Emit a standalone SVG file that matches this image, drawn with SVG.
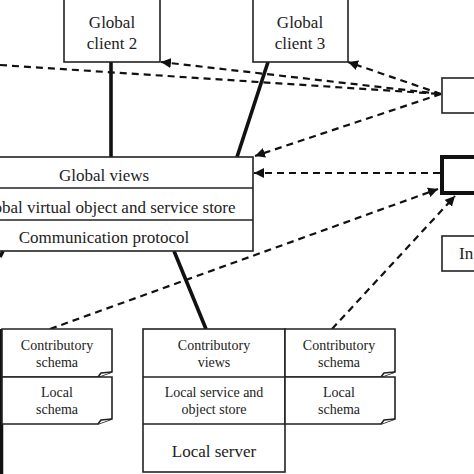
<svg xmlns="http://www.w3.org/2000/svg" width="474" height="474" viewBox="0 0 474 474">
<style>
.box{fill:#fff;stroke:#222;stroke-width:1.6}
.thickbox{fill:#fff;stroke:#111;stroke-width:4}
.t{font-family:"Liberation Serif","Times New Roman",serif;fill:#222;text-anchor:middle}
.big{font-size:17px}
.sm{font-size:14px}
.solid{stroke:#111;stroke-width:3.6;fill:none}
.dash{stroke:#111;stroke-width:2.2;stroke-dasharray:7 5;fill:none}
</style>
<defs>
<marker id="ah" viewBox="0 0 10 10" refX="10" refY="5" markerWidth="10" markerHeight="10" markerUnits="userSpaceOnUse" orient="auto">
<path d="M0,0 L10,5 L0,10 z" fill="#111"/>
</marker>
<marker id="ahs" viewBox="0 0 10 10" refX="10" refY="5" markerWidth="6" markerHeight="6" markerUnits="userSpaceOnUse" orient="auto">
<path d="M0,0 L10,5 L0,10 z" fill="#111"/>
</marker>
</defs>
<rect width="474" height="474" fill="#fff"/>

<g id="connectors">
<line class="solid" x1="111" y1="62" x2="111" y2="157"/>
<line class="solid" x1="268" y1="62" x2="237" y2="157"/>
<line class="solid" x1="174" y1="251" x2="206" y2="329"/>
<line class="solid" x1="3" y1="251" x2="0" y2="257"/>
<line class="dash" x1="0" y1="65" x2="441" y2="94" marker-end="url(#ahs)"/>
<line class="dash" x1="441" y1="94" x2="161" y2="62" marker-end="url(#ah)"/>
<line class="dash" x1="441" y1="94" x2="348" y2="62" marker-end="url(#ah)"/>
<line class="dash" x1="441" y1="94" x2="255" y2="156" marker-end="url(#ah)"/>
<line class="dash" x1="440" y1="173" x2="254" y2="173" marker-end="url(#ah)"/>
<line class="dash" x1="50" y1="329" x2="438" y2="189" marker-end="url(#ah)"/>
<line class="dash" x1="332" y1="329" x2="455" y2="196" marker-end="url(#ah)"/>
</g>

<g id="global-client-2">
<rect class="box" x="64" y="-10" width="96" height="72"/>
<text class="t big" x="112" y="28">Global</text>
<text class="t big" x="112" y="49">client 2</text>
</g>

<g id="global-client-3">
<rect class="box" x="253" y="-10" width="95" height="72"/>
<text class="t big" x="300" y="28">Global</text>
<text class="t big" x="300" y="49">client 3</text>
</g>

<g id="global-server">
<rect class="box" x="-45" y="157" width="298" height="94"/>
<line class="box" x1="-45" y1="188" x2="253" y2="188"/>
<line class="box" x1="-45" y1="220" x2="253" y2="220"/>
<text class="t big" x="104" y="181">Global views</text>
<text class="t big" x="106" y="213">Global virtual object and service store</text>
<text class="t big" x="104" y="243">Communication protocol</text>
</g>

<g id="right-box-1">
<rect class="box" x="442" y="78" width="50" height="35"/>
</g>

<g id="right-box-2">
<rect class="thickbox" x="442" y="157" width="50" height="36"/>
</g>

<g id="right-box-3">
<rect class="box" x="442" y="236" width="50" height="35"/>
<text class="t big" x="459" y="259" style="text-anchor:start">In</text>
</g>

<g id="left-edge">
<line x1="1.5" y1="329" x2="1.5" y2="474" stroke="#111" stroke-width="3.5"/>
</g>

<g id="left-schemas">
<path class="box" d="M2,329 H112 V372 L98,377 H2 Z"/>
<path class="box" d="M98,377 L101,373 L112,372"/>
<text class="t sm" x="57" y="350">Contributory</text>
<text class="t sm" x="57" y="367">schema</text>
<path class="box" d="M2,377 H112 V419 L98,424 H2 Z"/>
<path class="box" d="M98,424 L101,420 L112,419"/>
<text class="t sm" x="57" y="397">Local</text>
<text class="t sm" x="57" y="414">schema</text>
</g>

<g id="local-server">
<rect class="box" x="143" y="329" width="142" height="143"/>
<line class="box" x1="143" y1="377" x2="285" y2="377"/>
<line class="box" x1="143" y1="424" x2="285" y2="424"/>
<text class="t sm" x="214" y="350">Contributory</text>
<text class="t sm" x="214" y="367">views</text>
<text class="t sm" x="214" y="397">Local service and</text>
<text class="t sm" x="214" y="414">object store</text>
<text class="t big" x="214" y="457">Local server</text>
</g>

<g id="right-schemas">
<path class="box" d="M285,329 H395 V372 L381,377 H285 Z"/>
<path class="box" d="M381,377 L384,373 L395,372"/>
<text class="t sm" x="339" y="350">Contributory</text>
<text class="t sm" x="339" y="367">schema</text>
<path class="box" d="M285,377 H395 V419 L381,424 H285 Z"/>
<path class="box" d="M381,424 L384,420 L395,419"/>
<text class="t sm" x="339" y="397">Local</text>
<text class="t sm" x="339" y="414">schema</text>
</g>
</svg>
